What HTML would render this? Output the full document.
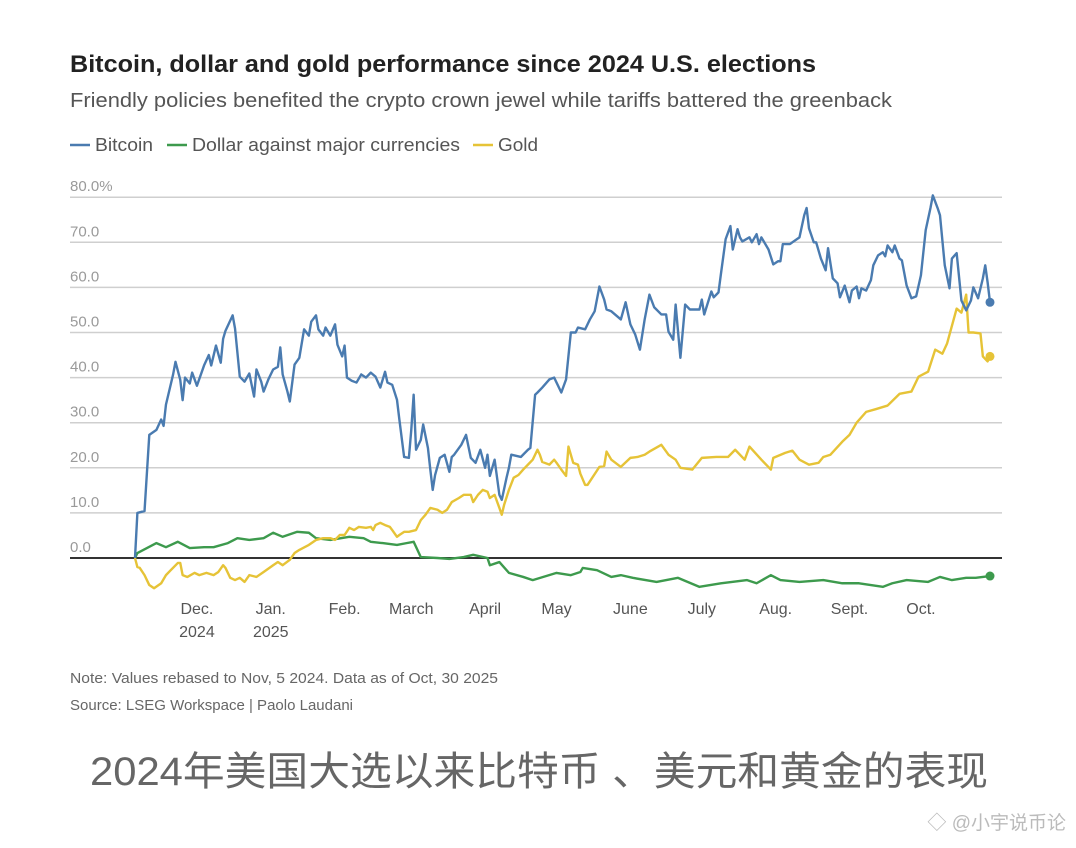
<!DOCTYPE html>
<html><head><meta charset="utf-8"><style>
body{margin:0;background:#fff;width:1076px;height:848px;overflow:hidden;font-family:"Liberation Sans","Noto Sans CJK SC",sans-serif}
svg{position:absolute;left:0;top:0}
</style></head><body>
<svg id="c" width="1076" height="848">
<text x="70" y="72" font-size="24" font-weight="bold" fill="#222" textLength="746" lengthAdjust="spacingAndGlyphs">Bitcoin, dollar and gold performance since 2024 U.S. elections</text>
<text x="70" y="107" font-size="20" fill="#555" textLength="822" lengthAdjust="spacingAndGlyphs">Friendly policies benefited the crypto crown jewel while tariffs battered the greenback</text>
<g font-size="18" fill="#555">
<line x1="70" y1="145" x2="90" y2="145" stroke="#4a7bb0" stroke-width="2.5"/><text x="95" y="151" textLength="58" lengthAdjust="spacingAndGlyphs">Bitcoin</text>
<line x1="167" y1="145" x2="187" y2="145" stroke="#3d9a4d" stroke-width="2.5"/><text x="192" y="151" textLength="268" lengthAdjust="spacingAndGlyphs">Dollar against major currencies</text>
<line x1="473" y1="145" x2="493" y2="145" stroke="#e6c337" stroke-width="2.5"/><text x="498" y="151" textLength="40" lengthAdjust="spacingAndGlyphs">Gold</text>
</g>
<g id="grid"></g><g id="lines"></g>
<text x="70" y="683" font-size="15" fill="#666" textLength="428" lengthAdjust="spacingAndGlyphs">Note: Values rebased to Nov, 5 2024. Data as of Oct, 30 2025</text>
<text x="70" y="710" font-size="15" fill="#666" textLength="283" lengthAdjust="spacingAndGlyphs">Source: LSEG Workspace | Paolo Laudani</text>
<text x="90" y="785" font-size="40" fill="#666" textLength="898" lengthAdjust="spacingAndGlyphs">2024年美国大选以来比特币 、美元和黄金的表现</text>
<text x="1066" y="829" font-size="19" fill="#bbb" text-anchor="end">◇ @小宇说币论</text>
</svg>
<script>
const yTicks=[0,10,20,30,40,50,60,70,80];
const months=["Dec.","Jan.","Feb.","March","April","May","June","July","Aug.","Sept.","Oct."];
const monthDays=[26,57,88,116,147,177,208,238,269,300,330];
const btcDays=[0,1,4,6,9,11,12,13,16,17,19,20,21,23,24,26,29,31,32,34,36,37,38,41,42,44,46,48,50,51,53,54,56,58,60,61,62,64,65,67,69,71,73,74,76,77,79,80,82,84,85,87,88,89,91,93,95,97,99,101,103,105,106,108,110,111,113,115,116,117,118,120,121,123,124,125,126,128,130,132,133,134,137,139,141,143,145,147,148,149,151,153,154,156,157,158,162,165,166,168,169,171,174,176,179,181,183,185,186,189,191,193,195,197,198,200,204,206,208,210,212,214,216,218,221,223,224,226,227,229,231,233,237,238,239,242,243,245,246,248,250,251,253,254,255,258,259,261,262,263,266,268,270,271,272,275,276,279,281,282,283,285,286,288,290,291,293,295,296,298,300,301,303,304,305,307,309,310,312,314,315,316,318,319,321,322,324,326,328,330,332,334,335,337,338,340,342,343,345,347,349,351,352,354,356,357,358,359];
const btcVals=[0,10,10.4,27.3,28.4,30.7,29.3,34,40.7,43.5,39.5,35,40,38.7,41.1,38.2,42.7,45,42.7,47.1,43.3,48.6,50.4,53.8,50.9,40.2,39.1,40.9,35.8,41.8,39.1,36.9,39.6,41.8,42.4,46.7,40.7,36.9,34.7,42.9,44.4,50.7,49.3,52.4,53.8,50.7,49.3,51.1,49.3,51.8,47.3,44.7,47.1,40,39.3,38.9,40.7,40,41.1,40.2,37.8,41.3,38.9,38.4,35.1,30.7,22.4,22.2,28.4,36.2,24,26.2,29.6,24.4,19.6,15.1,18.4,22.2,22.9,19.1,22.4,22.9,25.1,27.3,22.2,21.1,24,20,22.9,18.2,21.8,14,12.9,17.8,20,22.9,22.4,24,24.4,36.2,36.7,37.8,39.6,40,36.7,39.6,50,50,51.1,50.7,52.9,54.7,60.2,57.3,55.1,54.7,52.9,56.7,51.8,49.6,46.2,52.9,58.4,55.6,54,54,50.2,48.4,56.2,44.4,56.2,55.1,55.1,57.3,54,59.1,57.8,58.9,62.9,70.7,73.6,68.4,72.9,71.1,70.2,71.1,70,71.8,69.6,71.1,68.4,65.1,65.8,65.8,69.6,69.6,70,71.1,76,77.6,73.1,70,70,66.4,63.8,68.7,62,60.9,57.8,60.4,56.7,59.3,60.2,57.6,59.8,59.3,61.6,64.9,67.1,67.8,66.9,69.3,67.8,69.3,66.4,66,60.4,57.6,58,62.7,72.7,77.6,80.4,77.6,76,64.9,59.8,66.4,67.6,57.1,54.9,57.1,60,57.6,62,64.9,61.1,56.7];
const goldDays=[0,1,2,4,6,8,11,13,15,18,19,20,22,25,27,30,33,35,37,38,40,42,44,46,48,51,54,58,60,62,65,67,69,73,76,79,82,84,86,88,90,92,94,97,99,100,101,103,105,107,108,110,111,113,115,118,120,122,124,127,129,131,133,136,138,141,142,144,146,148,149,151,153,154,155,157,159,161,163,165,167,169,170,171,174,176,177,179,181,182,184,186,187,189,190,195,197,198,200,204,208,211,214,216,221,224,227,229,234,238,244,249,252,256,258,263,267,268,273,276,279,283,287,289,292,297,300,303,307,311,316,321,326,329,333,336,339,341,345,347,349,350,352,355,356,358,359];
const goldVals=[0,-2,-2.2,-3.8,-6,-6.7,-5.6,-3.8,-2.7,-1.1,-1.1,-3.8,-4.2,-3.3,-3.8,-3.3,-3.8,-3.1,-1.6,-2.2,-4.4,-4.9,-4.4,-5.3,-3.8,-4.2,-3.1,-1.6,-0.9,-1.6,-0.4,1.1,1.8,2.9,4,4.4,4.4,4,5.1,5.1,6.7,6.2,6.9,6.7,6.9,6.2,7.3,7.8,7.3,6.9,6.2,4.7,5.1,5.8,5.8,6.2,8.4,9.6,11.1,10.7,10,10.7,12.4,13.3,14,14,12.4,14,15.1,14.7,13.3,14,11.1,9.6,11.8,15.1,17.8,18.4,19.6,20.7,21.8,24,22.9,21.3,20.7,21.8,21.1,19.6,18.2,24.7,21.1,20.7,18.7,16.2,16.2,20.2,20.4,23.6,21.8,20.2,22.2,22.4,22.9,23.6,25.1,22.9,21.8,20,19.6,22.2,22.4,22.4,24,21.8,24.7,21.8,19.6,22.2,23.3,23.8,21.8,20.7,21.1,22.4,22.9,25.8,27.3,30,32.4,33,33.8,36.4,36.9,40.2,41.3,46.2,45.3,47.6,55.3,54.4,58.4,50,50,49.8,44.7,43.6,44.7];
const usdDays=[0,1,9,13,18,23,29,33,39,43,48,54,58,62,68,73,76,82,90,96,99,104,110,114,117,120,127,132,138,142,148,149,153,157,163,167,177,183,187,188,194,200,204,209,219,228,237,246,257,261,267,271,279,289,297,304,314,318,324,333,338,343,349,353,359];
const usdVals=[0,1.1,3.3,2.4,3.6,2.2,2.4,2.4,3.3,4.4,4,4.4,5.6,4.7,5.8,5.6,4.4,4,4.7,4.4,3.6,3.3,2.9,3.3,3.6,0.2,0,-0.2,0.2,0.7,0,-1.6,-0.9,-3.3,-4.2,-4.9,-3.3,-3.8,-3.1,-2.2,-2.7,-4.2,-3.8,-4.4,-5.3,-4.4,-6.4,-5.6,-4.9,-5.6,-3.8,-4.9,-5.3,-4.9,-5.6,-5.6,-6.4,-5.6,-4.9,-5.3,-4.2,-4.9,-4.4,-4.4,-4];
const NS="http://www.w3.org/2000/svg";
const X=d=>135+d*(855/359), Y=v=>558-v*4.51;
const grid=document.getElementById('grid'), lines=document.getElementById('lines');
function mk(tag,attrs,parent){const e=document.createElementNS(NS,tag);for(const k in attrs)e.setAttribute(k,attrs[k]);parent.appendChild(e);return e;}
yTicks.forEach(t=>{
  const l=mk('line',{x1:70,x2:1002,y1:Y(t),y2:Y(t),stroke:t===0?'#333':'#cfcfcf','stroke-width':t===0?2:1.5},grid);
  
  
  const tx=mk('text',{x:70,y:Y(t)-6,'font-size':15,fill:'#9a9a9a'},grid);
  tx.textContent=t===80?'80.0%':t.toFixed(1);
  
  
});
months.forEach((m,i)=>{
  const tx=mk('text',{x:X(monthDays[i]),y:614,'font-size':16,fill:'#555','text-anchor':'middle'},grid);
  tx.textContent=m;
  
  
  if(i<2){const t2=mk('text',{x:X(monthDays[i]),y:637,'font-size':16,fill:'#555','text-anchor':'middle'},grid);
  t2.textContent=i===0?'2024':'2025';
  
  }
});
function series(days,vals,color,name){
  const p=mk('polyline',{points:days.map((d,i)=>X(d)+','+Y(vals[i])).join(' '),fill:'none',stroke:color,'stroke-width':2.4,'stroke-linejoin':'round'},lines);
  
  
  const n=days.length-1;
  const c=mk('circle',{cx:X(days[n]),cy:Y(vals[n]),r:4.5,fill:color},lines);
  
  
}
series(usdDays,usdVals,'#3d9a4d','dollar');
series(goldDays,goldVals,'#e6c337','gold');
series(btcDays,btcVals,'#4a7bb0','bitcoin');
</script>
</body></html>
